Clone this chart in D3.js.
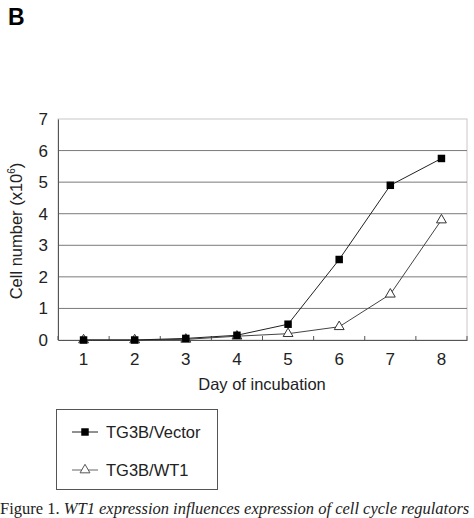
<!DOCTYPE html>
<html>
<head>
<meta charset="utf-8">
<script src="https://cdn.jsdelivr.net/npm/d3@7"></script>
<style>
  body { margin: 0; background: #fff; }
  svg { display: block; }
</style>
</head>
<body>
<svg width="474" height="518"></svg>
<script>
var days = ["1", "2", "3", "4", "5", "6", "7", "8"];
var vectorValues = [0, 0, 0.05, 0.15, 0.5, 2.55, 4.9, 5.75];
var wt1Values = [0, 0, 0.02, 0.12, 0.2, 0.42, 1.45, 3.8];
var yTicks = [0, 1, 2, 3, 4, 5, 6, 7];
var seriesNames = ["TG3B/Vector", "TG3B/WT1"];

function main() {
    var svg = d3.select("svg");
    var left = 58, top = 119, right = 467, bottom = 340;

    var xScale = d3.scaleBand().domain(days).range([left, right]),
        yScale = d3.scaleLinear().domain([0, 7]).range([bottom, top]);

    svg.append("text")
       .attr("x", 8)
       .attr("y", 25)
       .attr("font-family", "Liberation Sans, Arial, sans-serif")
       .attr("font-weight", "bold")
       .attr("font-size", "23px")
       .text("B");

    // plot frame (top/right)
    svg.append("rect")
       .attr("x", left).attr("y", top)
       .attr("width", right - left).attr("height", bottom - top)
       .attr("fill", "none")
       .attr("stroke", "#c8c8c8")
       .attr("stroke-width", 1);

    // gridlines
    svg.append("g")
       .selectAll("line")
       .data(yTicks.filter(function(d) { return d > 0 && d < 7; }))
       .enter().append("line")
       .attr("x1", left).attr("x2", right)
       .attr("y1", function(d) { return yScale(d); })
       .attr("y2", function(d) { return yScale(d); })
       .attr("stroke", "#7a7a7a")
       .attr("stroke-width", 1);

    // y axis
    var yAxis = svg.append("g")
       .attr("transform", "translate(" + left + ",0)")
       .call(d3.axisLeft(yScale).tickValues(yTicks).tickFormat(d3.format("d")).tickSize(0).tickPadding(10));
    yAxis.select(".domain").attr("stroke", "#555");
    yAxis.selectAll("text")
       .attr("font-family", "Liberation Sans, Arial, sans-serif")
       .attr("font-size", "17px")
       .attr("fill", "#222");

    // x axis
    var xAxis = svg.append("g")
       .attr("transform", "translate(0," + bottom + ")")
       .call(d3.axisBottom(xScale).tickSize(0).tickPadding(13));
    xAxis.select(".domain").attr("stroke", "#555");
    xAxis.selectAll("text")
       .attr("font-family", "Liberation Sans, Arial, sans-serif")
       .attr("font-size", "17px")
       .attr("fill", "#222");

    // band boundary ticks pointing up
    var bounds = days.map(function(d) { return xScale(d); }).concat([right]);
    svg.append("g")
       .selectAll("line")
       .data(bounds)
       .enter().append("line")
       .attr("x1", function(d) { return d; })
       .attr("x2", function(d) { return d; })
       .attr("y1", bottom)
       .attr("y2", bottom - 4)
       .attr("stroke", "#555");

    svg.append("text")
       .attr("x", 262)
       .attr("y", 390)
       .attr("text-anchor", "middle")
       .attr("font-family", "Liberation Sans, Arial, sans-serif")
       .attr("font-size", "16.5px")
       .attr("fill", "#222")
       .text("Day of incubation");

    var yl = svg.append("text")
       .attr("transform", "translate(22,231) rotate(-90)")
       .attr("text-anchor", "middle")
       .attr("font-family", "Liberation Sans, Arial, sans-serif")
       .attr("font-size", "16.5px")
       .attr("fill", "#222");
    yl.append("tspan").text("Cell number (x10");
    yl.append("tspan").attr("font-size", "10px").attr("dy", "-7").text("6");
    yl.append("tspan").attr("dy", "7").text(")");

    var cx = function(d, i) { return xScale(days[i]) + xScale.bandwidth() / 2; };
    var line = d3.line()
       .x(function(d, i) { return cx(d, i); })
       .y(function(d) { return yScale(d); });

    svg.append("path")
       .datum(wt1Values)
       .attr("d", line)
       .attr("fill", "none")
       .attr("stroke", "#444")
       .attr("stroke-width", 1);

    svg.append("path")
       .datum(vectorValues)
       .attr("d", line)
       .attr("fill", "none")
       .attr("stroke", "#222")
       .attr("stroke-width", 1);

    var tri = d3.symbol().type(d3.symbolTriangle).size(42);
    var sq = d3.symbol().type(d3.symbolSquare).size(56);

    svg.append("g")
       .selectAll("path")
       .data(wt1Values)
       .enter().append("path")
       .attr("d", tri)
       .attr("transform", function(d, i) { return "translate(" + cx(d, i) + "," + yScale(d) + ")"; })
       .attr("fill", "#fff")
       .attr("stroke", "#333")
       .attr("stroke-width", 1);

    svg.append("g")
       .selectAll("path")
       .data(vectorValues)
       .enter().append("path")
       .attr("d", sq)
       .attr("transform", function(d, i) { return "translate(" + cx(d, i) + "," + yScale(d) + ")"; })
       .attr("fill", "#000");

    // legend
    svg.append("rect")
       .attr("x", 56.5).attr("y", 409.5)
       .attr("width", 161).attr("height", 80)
       .attr("fill", "#fff")
       .attr("stroke", "#555");

    var ly = [432, 470];
    var lg = svg.append("g");
    lg.selectAll("line")
       .data(seriesNames)
       .enter().append("line")
       .attr("x1", 72).attr("x2", 98)
       .attr("y1", function(d, i) { return ly[i]; })
       .attr("y2", function(d, i) { return ly[i]; })
       .attr("stroke", function(d, i) { return i === 0 ? "#222" : "#666"; });
    lg.append("path")
       .attr("d", sq)
       .attr("transform", "translate(85," + ly[0] + ")")
       .attr("fill", "#000");
    lg.append("path")
       .attr("d", tri)
       .attr("transform", "translate(85," + ly[1] + ")")
       .attr("fill", "#fff")
       .attr("stroke", "#555");
    lg.selectAll("text")
       .data(seriesNames)
       .enter().append("text")
       .attr("x", 106)
       .attr("y", function(d, i) { return ly[i] + 6; })
       .attr("font-family", "Liberation Sans, Arial, sans-serif")
       .attr("font-size", "16.5px")
       .attr("fill", "#222")
       .text(function(d) { return d; });

    var cap = svg.append("text")
       .attr("x", 0)
       .attr("y", 514)
       .attr("font-family", "Liberation Serif, Times New Roman, serif")
       .attr("font-size", "16.5px")
       .attr("fill", "#222");
    cap.append("tspan").text("Figure 1. ");
    cap.append("tspan").attr("font-style", "italic")
       .text("WT1 expression influences expression of cell cycle regulators");
}
main();
</script>
</body>
</html>
